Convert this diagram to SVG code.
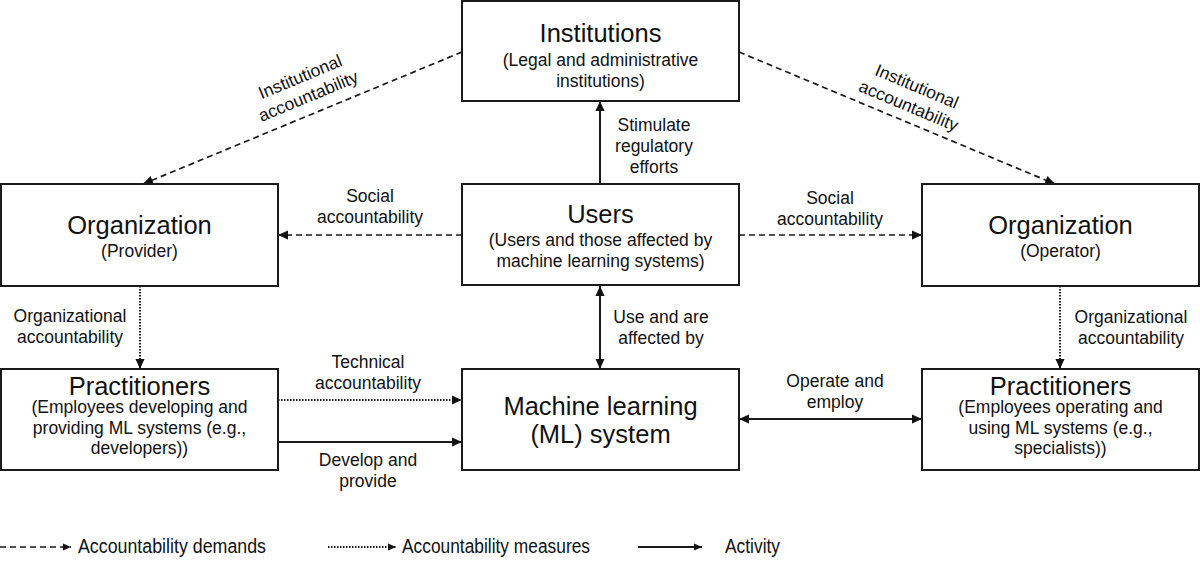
<svg xmlns="http://www.w3.org/2000/svg" width="1200" height="561" viewBox="0 0 1200 561">
<style>
text{font-family:"Liberation Sans",Arial,sans-serif;fill:#111;text-anchor:middle}
.t{font-size:25.5px}
.s{font-size:17.5px}
.box{fill:#fff;stroke:#1a1a1a;stroke-width:2}
.ln{fill:none;stroke:#1a1a1a;stroke-width:2}
.dash{stroke-dasharray:6 4;stroke-width:1.7}
.dot{stroke-dasharray:1.5 1.5;stroke-width:2}
.lg{font-size:20px;text-anchor:start}
</style>
<defs>
<marker id="ah" viewBox="0 0 10 10" refX="10" refY="5" markerWidth="10" markerHeight="10" markerUnits="userSpaceOnUse" orient="auto-start-reverse"><path d="M0,0.5 L10,5 L0,9.5 z" fill="#111"/></marker>
<marker id="ahs" viewBox="0 0 10 10" refX="10" refY="5" markerWidth="8" markerHeight="8" markerUnits="userSpaceOnUse" orient="auto"><path d="M0,0.5 L10,5 L0,9.5 z" fill="#111"/></marker>
</defs>

<g id="connectors">
<line class="ln dash" x1="462" y1="52" x2="143" y2="184" marker-end="url(#ah)"/>
<line class="ln dash" x1="739" y1="52" x2="1055" y2="184" marker-end="url(#ah)"/>
<line class="ln" x1="600" y1="184" x2="600" y2="101" marker-end="url(#ah)"/>
<line class="ln dash" x1="462" y1="235" x2="278" y2="235" marker-end="url(#ah)"/>
<line class="ln dash" x1="739" y1="235" x2="922" y2="235" marker-end="url(#ah)"/>
<line class="ln dot" x1="140" y1="286" x2="140" y2="369" marker-end="url(#ah)"/>
<line class="ln dot" x1="1060" y1="286" x2="1060" y2="369" marker-end="url(#ah)"/>
<line class="ln" x1="600" y1="286" x2="600" y2="369" marker-start="url(#ah)" marker-end="url(#ah)"/>
<line class="ln dot" x1="278" y1="400" x2="462" y2="400" marker-end="url(#ah)"/>
<line class="ln" x1="278" y1="442" x2="462" y2="442" marker-end="url(#ah)"/>
<line class="ln" x1="739" y1="419" x2="922" y2="419" marker-start="url(#ah)" marker-end="url(#ah)"/>

<g transform="translate(304,86) rotate(-22.5)">
<text class="s" x="0" y="-4">Institutional</text>
<text class="s" x="0" y="17">accountability</text>
</g>
<g transform="translate(913,95.5) rotate(22.7)">
<text class="s" x="0" y="-4">Institutional</text>
<text class="s" x="0" y="17">accountability</text>
</g>
<text class="s" x="654" y="131">Stimulate</text>
<text class="s" x="654" y="152">regulatory</text>
<text class="s" x="654" y="173">efforts</text>
<text class="s" x="370" y="202">Social</text>
<text class="s" x="370" y="223">accountability</text>
<text class="s" x="830" y="204">Social</text>
<text class="s" x="830" y="225">accountability</text>
<text class="s" x="70" y="322">Organizational</text>
<text class="s" x="70" y="343">accountability</text>
<text class="s" x="1131" y="323">Organizational</text>
<text class="s" x="1131" y="344">accountability</text>
<text class="s" x="661" y="323">Use and are</text>
<text class="s" x="661" y="344">affected by</text>
<text class="s" x="368" y="368">Technical</text>
<text class="s" x="368" y="389">accountability</text>
<text class="s" x="368" y="466">Develop and</text>
<text class="s" x="368" y="487">provide</text>
<text class="s" x="835" y="387">Operate and</text>
<text class="s" x="835" y="408">employ</text>
</g>

<g id="institutions">
<rect class="box" x="462" y="1" width="277" height="100"/>
<text class="t" x="600.5" y="42">Institutions</text>
<text class="s" x="600.5" y="66">(Legal and administrative</text>
<text class="s" x="600.5" y="87">institutions)</text>
</g>
<g id="org-provider">
<rect class="box" x="1" y="184" width="277" height="102"/>
<text class="t" x="139.5" y="234">Organization</text>
<text class="s" x="139.5" y="257">(Provider)</text>
</g>
<g id="users">
<rect class="box" x="462" y="184" width="277" height="101"/>
<text class="t" x="600.5" y="223">Users</text>
<text class="s" x="600.5" y="246">(Users and those affected by</text>
<text class="s" x="600.5" y="267">machine learning systems)</text>
</g>
<g id="org-operator">
<rect class="box" x="922" y="184" width="277" height="102"/>
<text class="t" x="1060.5" y="234">Organization</text>
<text class="s" x="1060.5" y="257">(Operator)</text>
</g>
<g id="practitioners-provider">
<rect class="box" x="1" y="369" width="277" height="101"/>
<text class="t" x="139.5" y="395">Practitioners</text>
<text class="s" x="139.5" y="413">(Employees developing and</text>
<text class="s" x="139.5" y="433.5">providing ML systems (e.g.,</text>
<text class="s" x="139.5" y="454">developers))</text>
</g>
<g id="ml-system">
<rect class="box" x="462" y="369" width="277" height="101"/>
<text class="t" x="600.5" y="415">Machine learning</text>
<text class="t" x="600.5" y="443">(ML) system</text>
</g>
<g id="practitioners-operator">
<rect class="box" x="922" y="369" width="277" height="101"/>
<text class="t" x="1060.5" y="395">Practitioners</text>
<text class="s" x="1060.5" y="413">(Employees operating and</text>
<text class="s" x="1060.5" y="433.5">using ML systems (e.g.,</text>
<text class="s" x="1060.5" y="454">specialists))</text>
</g>

<g id="legend">
<line class="ln dash" x1="0" y1="547" x2="71" y2="547" marker-end="url(#ahs)"/>
<text class="lg" x="78" y="553" textLength="188" lengthAdjust="spacingAndGlyphs">Accountability demands</text>
<line class="ln dot" x1="328" y1="547" x2="396" y2="547" marker-end="url(#ahs)"/>
<text class="lg" x="402" y="553" textLength="188" lengthAdjust="spacingAndGlyphs">Accountability measures</text>
<line class="ln" x1="638" y1="547" x2="702" y2="547" marker-end="url(#ahs)"/>
<text class="lg" x="725" y="553" textLength="55" lengthAdjust="spacingAndGlyphs">Activity</text>
</g>
</svg>
